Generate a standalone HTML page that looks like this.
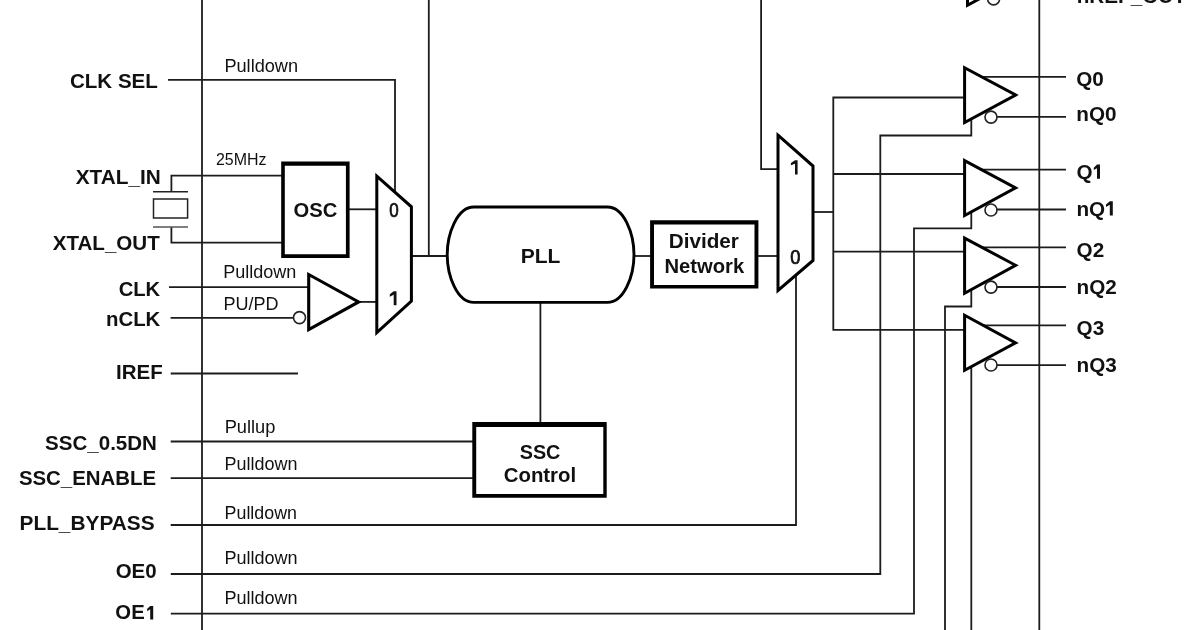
<!DOCTYPE html>
<html><head><meta charset="utf-8">
<style>
html,body{margin:0;padding:0;background:#fff;}
body{width:1200px;height:630px;overflow:hidden;}
svg{display:block;will-change:transform;}
text{font-family:"Liberation Sans",sans-serif;fill:#111;}
</style></head><body>
<svg width="1200" height="630" viewBox="0 0 1200 630">
<rect width="1200" height="630" fill="#fff"/>
<g fill="none" stroke="#1c1c1c" stroke-width="1.8">
<path d="M202,0V630"/>
<path d="M1039.3,0V630"/>
<path d="M168,79.9H395V191"/>
<path d="M428.8,0V256"/>
<path d="M411,256H447"/>
<path d="M284,175.6H171.4V191.7"/>
<path d="M171.4,227V242.7H284"/>
<path d="M348,209.3H377"/>
<path d="M169,287.1H309"/>
<path d="M170.6,317.8H294"/>
<path d="M358,301.9H377"/>
<path d="M170.7,373.5H298"/>
<path d="M634,256H652"/>
<path d="M540.4,302V424"/>
<path d="M170.7,441.5H474"/>
<path d="M170.7,478.2H474"/>
<path d="M170.7,525H796V276"/>
<path d="M170.8,574H880.3V135.5H971.3V119"/>
<path d="M170.8,613.6H914V228.3H971.3V212"/>
<path d="M945,630V306.5H971.3V290"/>
<path d="M971.3,630V367"/>
<path d="M756,256H778"/>
<path d="M761.1,0V169.2H778"/>
<path d="M813,212H833.3"/>
<path d="M966,97.5H833.3V329.8H966"/>
<path d="M833.3,174H966"/>
<path d="M833.3,251.7H966"/>
<path d="M975,76.9H1066"/>
<path d="M975,169.6H1066"/>
<path d="M975,247.4H1066"/>
<path d="M975,325.4H1066"/>
<path d="M985,116.9H1066"/>
<path d="M985,209.5H1066"/>
<path d="M985,287.0H1066"/>
<path d="M985,365.2H1066"/>
</g>
<g fill="none" stroke="#222" stroke-width="1.5">
<path d="M153,191.7H188"/>
<path d="M153,227H188" stroke="#555"/>
<rect x="153.5" y="199" width="34.1" height="19"/>
</g>
<path fill-rule="evenodd" fill="#000" d="M281.20,161.60H349.60V258.10H281.20ZM284.80,165.80H345.90V254.20H284.80Z"/>
<path fill-rule="evenodd" fill="#000" d="M650.10,220.30H758.40V288.60H650.10ZM654.00,224.50H754.50V285.00H654.00Z"/>
<path fill-rule="evenodd" fill="#000" d="M472.30,422.10H606.70V497.70H472.30ZM476.20,427.00H603.30V494.00H476.20Z"/>
<g fill="#fff" stroke="#000" stroke-width="3">
<path d="M473.80,207.0H607.40C623.89,207.0 634.0,233.23 634.0,254.7C634.0,276.16 623.89,302.4 607.40,302.4H473.80C457.31,302.4 447.2,276.16 447.2,254.7C447.2,233.23 457.31,207.0 473.80,207.0Z" stroke-width="2.9"/>
<path d="M376.8,176.2L411.4,206.8L411.4,301L376.8,332.5Z" stroke-width="3.0"/>
<path d="M778,135.2L813,166L813,260.5L778,290.5Z" stroke-width="3.0"/>
<path d="M308.7,274.5L358.6,301.9L308.7,329.5Z" stroke-width="3.1"/>
<path d="M964.6,67.8L1015.6,95L964.6,122.5Z"/>
<path d="M964.6,160.6L1015.6,187.9L964.6,215.5Z"/>
<path d="M964.6,238.1L1015.6,265.3L964.6,293.3Z"/>
<path d="M964.6,315.3L1015.6,342.9L964.6,370.2Z"/>
<path d="M967.5,-50L1018.5,-22.5L967.5,5.3Z"/>
</g>

<g fill="#fff" stroke="#222" stroke-width="1.6">
<circle cx="991" cy="117.1" r="6"/>
<circle cx="991" cy="210" r="6"/>
<circle cx="991" cy="287.1" r="6"/>
<circle cx="991" cy="365" r="6"/>
<circle cx="993.6" cy="-1.1" r="6"/>
<circle cx="299.5" cy="317.6" r="6"/>
</g>
<text transform="translate(69.96,87.60) scale(1,1.000)" font-size="20.55" font-weight="bold" text-anchor="start">CLK SEL</text>
<text transform="translate(75.70,183.50) scale(1,1.000)" font-size="20.79" font-weight="bold" text-anchor="start">XTAL_IN</text>
<text transform="translate(52.70,249.70) scale(1,1.000)" font-size="20.59" font-weight="bold" text-anchor="start">XTAL_OUT</text>
<text transform="translate(118.67,296.30) scale(1,1.000)" font-size="20.19" font-weight="bold" text-anchor="start">CLK</text>
<text transform="translate(106.03,326.20) scale(1,1.000)" font-size="20.38" font-weight="bold" text-anchor="start">nCLK</text>
<text transform="translate(116.02,379.10) scale(1,1.000)" font-size="20.53" font-weight="bold" text-anchor="start">IREF</text>
<text transform="translate(45.08,449.70) scale(1,1.000)" font-size="20.54" font-weight="bold" text-anchor="start">SSC_0.5DN</text>
<text transform="translate(18.88,484.90) scale(1,1.000)" font-size="20.41" font-weight="bold" text-anchor="start">SSC_ENABLE</text>
<text transform="translate(19.50,530.20) scale(1,1.000)" font-size="20.85" font-weight="bold" text-anchor="start">PLL_BYPASS</text>
<text transform="translate(115.66,578.30) scale(1,1.000)" font-size="20.47" font-weight="bold" text-anchor="start">OE0</text>
<text transform="translate(115.37,619.20) scale(1,1.000)" font-size="20.30" font-weight="bold" text-anchor="start">OE</text>
<text transform="translate(224.38,71.80) scale(1,1.030)" font-size="18.17" font-weight="normal" text-anchor="start">Pulldown</text>
<text transform="translate(223.29,277.90) scale(1,1.030)" font-size="18.02" font-weight="normal" text-anchor="start">Pulldown</text>
<text transform="translate(224.60,469.80) scale(1,1.030)" font-size="17.97" font-weight="normal" text-anchor="start">Pulldown</text>
<text transform="translate(224.61,519.00) scale(1,1.030)" font-size="17.84" font-weight="normal" text-anchor="start">Pulldown</text>
<text transform="translate(224.39,564.20) scale(1,1.030)" font-size="18.07" font-weight="normal" text-anchor="start">Pulldown</text>
<text transform="translate(224.39,603.80) scale(1,1.030)" font-size="18.07" font-weight="normal" text-anchor="start">Pulldown</text>
<text transform="translate(223.59,310.00) scale(1,1.030)" font-size="18.01" font-weight="normal" text-anchor="start">PU/PD</text>
<text transform="translate(224.67,433.00) scale(1,1.030)" font-size="18.26" font-weight="normal" text-anchor="start">Pullup</text>
<text transform="translate(215.95,164.50) scale(1,0.980)" font-size="15.97" font-weight="normal" text-anchor="start">25MHz</text>
<text transform="translate(293.57,217.00) scale(1,1.000)" font-size="20.22" font-weight="bold" text-anchor="start">OSC</text>
<text transform="translate(520.69,263.00) scale(1,1.000)" font-size="21.01" font-weight="bold" text-anchor="start">PLL</text>
<text transform="translate(668.71,247.70) scale(1,1.000)" font-size="20.70" font-weight="bold" text-anchor="start">Divider</text>
<text transform="translate(664.44,272.90) scale(1,1.000)" font-size="20.21" font-weight="bold" text-anchor="start">Network</text>
<text transform="translate(519.69,458.60) scale(1,1.000)" font-size="19.79" font-weight="bold" text-anchor="start">SSC</text>
<text transform="translate(503.76,482.40) scale(1,1.000)" font-size="20.38" font-weight="bold" text-anchor="start">Control</text>
<text transform="translate(393.85,216.70) scale(0.88,1)" font-size="19.3" font-weight="normal" stroke="#111" stroke-width="0.7" text-anchor="middle">0</text>
<text transform="translate(795.30,263.80) scale(0.95,1)" font-size="19.3" font-weight="normal" stroke="#111" stroke-width="0.7" text-anchor="middle">0</text>
<path d="M396.50,291.20V305.30H393.70V294.73L389.80,296.70V294.30L393.70,291.20Z" fill="#111"/>
<path d="M797.60,160.20V174.40H795.00V163.75L790.90,165.30V162.90L795.00,160.20Z" fill="#111"/>
<path d="M1100.00,164.60V178.80H1097.00V168.15L1093.80,170.10V167.70L1097.00,164.60Z" fill="#111"/>
<path d="M1112.80,201.20V215.60H1109.80V204.80L1106.00,207.00V204.60L1109.80,201.20Z" fill="#111"/>
<path d="M153.20,605.90V619.50H150.20V609.30L147.20,611.20V608.80L150.20,605.90Z" fill="#111"/>
<text transform="translate(1076.27,86.00) scale(1,1.000)" font-size="20.70" font-weight="bold" text-anchor="start">Q0</text>
<text transform="translate(1076.37,121.20) scale(1,1.000)" font-size="20.70" font-weight="bold" text-anchor="start">nQ0</text>
<text transform="translate(1076.47,178.90) scale(1,1.000)" font-size="20.70" font-weight="bold" text-anchor="start">Q</text>
<text transform="translate(1076.47,215.70) scale(1,1.000)" font-size="20.70" font-weight="bold" text-anchor="start">nQ</text>
<text transform="translate(1076.57,256.70) scale(1,1.000)" font-size="20.70" font-weight="bold" text-anchor="start">Q2</text>
<text transform="translate(1076.57,293.80) scale(1,1.000)" font-size="20.70" font-weight="bold" text-anchor="start">nQ2</text>
<text transform="translate(1076.57,334.80) scale(1,1.000)" font-size="20.70" font-weight="bold" text-anchor="start">Q3</text>
<text transform="translate(1076.57,371.70) scale(1,1.000)" font-size="20.70" font-weight="bold" text-anchor="start">nQ3</text>
<text transform="translate(1076.67,2.60) scale(1,1.000)" font-size="20.70" font-weight="bold" text-anchor="start">nREF_OUT</text>
</svg>
</body></html>
